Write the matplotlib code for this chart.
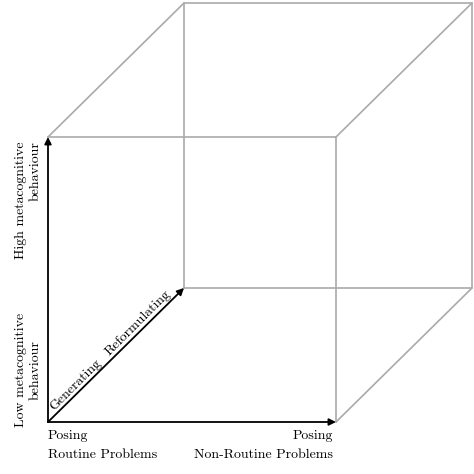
import matplotlib
matplotlib.use("Agg")
import matplotlib.pyplot as plt

plt.rcParams['font.family'] = ['cmr10', 'DejaVu Serif']
plt.rcParams['axes.formatter.use_mathtext'] = True

# cube geometry (in a 474x474 canvas coordinate system, y downward)
front_x = [48, 336]
front_y = [422, 137]
depth = (136, -134)

x_labels = ["Posing\nRoutine Problems", "Posing\nNon-Routine Problems"]
y_labels = ["Low metacognitive\nbehaviour", "High metacognitive\nbehaviour"]
z_labels = ["Generating", "Reformulating"]

fig = plt.figure(figsize=(4.74, 4.74), dpi=100)
ax = fig.add_axes([0, 0, 1, 1])
ax.set_xlim(0, 474)
ax.set_ylim(474, 0)
ax.axis('off')

x0, x1 = front_x
yb, yt = front_y
dx, dy = depth
gray = '#aaaaaa'
lw = 1.2
# front face (gray parts)
ax.plot([x0, x1, x1], [yt, yt, yb], color=gray, lw=lw)
# back face
ax.plot([x0+dx, x1+dx, x1+dx, x0+dx, x0+dx], [yb+dy, yb+dy, yt+dy, yt+dy, yb+dy], color=gray, lw=lw)
# connecting edges
for (px, py) in [(x1, yb), (x0, yt), (x1, yt)]:
    ax.plot([px, px+dx], [py, py+dy], color=gray, lw=lw)

# axes arrows
ap = dict(arrowstyle='-|>', color='black', lw=1.3, mutation_scale=10, shrinkA=0, shrinkB=0)
ax.annotate('', xy=(x1, yb), xytext=(x0, yb), arrowprops=ap)
ax.annotate('', xy=(x0, yt), xytext=(x0, yb), arrowprops=ap)
ax.annotate('', xy=(x0+dx, yb+dy), xytext=(x0, yb), arrowprops=ap)

fs = 10
ax.text(x0, 430, x_labels[0], ha='left', va='top', fontsize=fs, linespacing=1.7)
ax.text(x1 - 3, 430, x_labels[1], ha='right', va='top', fontsize=fs, linespacing=1.7, multialignment='right')
ax.text(28, 370, y_labels[0], ha='center', va='center', rotation=90, fontsize=fs, linespacing=1.3)
ax.text(28, 200, y_labels[1], ha='center', va='center', rotation=90, fontsize=fs, linespacing=1.3, multialignment='right')
ax.text(76, 385, z_labels[0], ha='center', va='center', rotation=45, fontsize=fs)
ax.text(138, 323, z_labels[1], ha='center', va='center', rotation=45, fontsize=fs)

fig.savefig('out.png', dpi=100, facecolor='white')
